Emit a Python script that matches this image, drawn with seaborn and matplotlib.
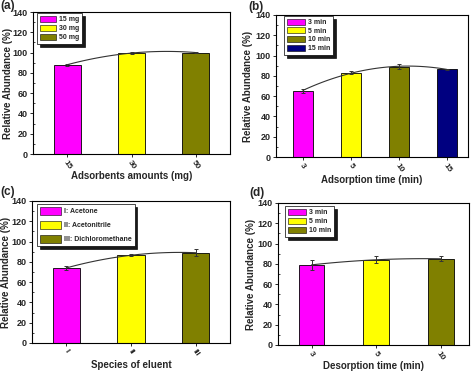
import numpy as np
import matplotlib
matplotlib.use("Agg")
import matplotlib.pyplot as plt
import seaborn as sns
import pandas as pd
from matplotlib.patches import Patch
from matplotlib.ticker import MultipleLocator

sns.set_style("white")
plt.rcParams['font.family'] = ['Liberation Sans', 'DejaVu Sans']
plt.rcParams['font.weight'] = 'bold'

# Data
a_cats = ["15", "30", "50"]
a_vals = [88.0, 99.5, 100.0]
a_err = [1.0, 0.8, 0.6]
a_leg = ["15 mg", "30 mg", "50 mg"]

b_cats = ["3", "5", "10", "15"]
b_vals = [65.5, 83.0, 89.0, 86.5]
b_err = [2.0, 1.5, 2.5, 0.5]
b_leg = ["3 min", "5 min", "10 min", "15 min"]

c_cats = ["I", "II", "III"]
c_vals = [74.0, 86.5, 89.0]
c_err = [2.0, 1.0, 3.5]
c_leg = ["I: Acetone", "II: Acetonitrile", "III: Dichloromethane"]

d_cats = ["3", "5", "10"]
d_vals = [79.0, 84.0, 85.0]
d_err = [5.0, 3.5, 2.5]
d_leg = ["3 min", "5 min", "10 min"]

colors = ["#FF00FF", "#FFFF00", "#808000", "#000080"]

fig = plt.figure(figsize=(4.74, 3.72), dpi=100)
W, H = 474, 372
def axrect(l, t, r, b):
    return [l / W, 1 - b / H, (r - l) / W, (b - t) / H]

# label, cats, vals, err, legend, xlabel, (l,t,r,b), xlim, barwidth, ylabel right-edge x px,
# xlabel top y px, panel-label (x,y) px, legend (left px, top px, handlelength, handleheight, labelspacing)
panels = [
    ("(a)", a_cats, a_vals, a_err, a_leg, "Adsorbents amounts (mg)", (33, 12, 230, 154), (-0.53, 2.53), 0.42,
     13, 171, (0, 0), (37, 13, 2.4, 0.9, 0.25)),
    ("(b)", b_cats, b_vals, b_err, b_leg, "Adsorption time (min)", (276, 15, 468, 157), (-0.56, 3.44), 0.42,
     253, 175, (248, 1), (284, 16, 2.6, 0.9, 0.2)),
    ("(c)", c_cats, c_vals, c_err, c_leg, "Species of eluent", (32, 201, 230, 343), (-0.53, 2.53), 0.42,
     11, 360, (0, 186), (37, 204, 3.1, 1.45, 0.8)),
    ("(d)", d_cats, d_vals, d_err, d_leg, "Desorption time (min)", (278, 203, 469, 345), (-0.52, 2.44), 0.40,
     256, 361, (249, 187), (285, 206, 2.6, 0.9, 0.25)),
]

for lab, cats, vals, err, leg, xlabel, box, xlim, bw, ylx, xly, plab, lgp in panels:
    l, t, r, b = box
    ax = fig.add_axes(axrect(*box))
    df = pd.DataFrame({"cat": cats, "val": vals})
    pal = colors[:len(cats)]
    sns.barplot(data=df, x="cat", y="val", hue="cat", palette=pal, legend=False, saturation=1,
                width=bw, edgecolor="black", linewidth=0.6, ax=ax, errorbar=None)
    x = np.arange(len(cats))
    ax.errorbar(x, vals, yerr=err, fmt="none", ecolor="#333333", elinewidth=0.7,
                capsize=1.5, capthick=0.7, zorder=5)
    # smooth trend curve through bar tops
    coef = np.polyfit(x, vals, 2)
    xs = np.linspace(x[0], x[-1], 100)
    ax.plot(xs, np.polyval(coef, xs), color="#333333", lw=0.8, zorder=6)
    ax.set_xlim(*xlim)
    ax.set_ylim(0, 140)
    ax.yaxis.set_major_locator(MultipleLocator(20))
    ax.yaxis.set_minor_locator(MultipleLocator(10))
    ax.set_xlabel(xlabel, fontsize=7, fontweight="bold")
    ax.set_ylabel("Relative Abundance (%)", fontsize=7, fontweight="bold")
    ax.yaxis.set_label_coords((ylx - l) / (r - l), 0.5)
    ax.xaxis.set_label_coords(0.5, -(xly - b) / (b - t))
    ax.tick_params(axis="both", which="major", direction="out", length=2.5, width=0.7,
                   labelsize=6.5, pad=1.5, left=True, bottom=True)
    ax.tick_params(axis="x", which="major", labelsize=6, pad=1)
    ax.tick_params(axis="y", which="minor", direction="in", length=1.5, width=0.6, left=True)
    for tl in ax.get_xticklabels():
        tl.set_rotation(-55)
        tl.set_ha("center")
        tl.set_va("top")
        tl.set_fontweight("bold")
    for tl in ax.get_yticklabels():
        tl.set_fontweight("bold")
    for s in ax.spines.values():
        s.set_visible(True)
        s.set_color("black")
        s.set_linewidth(0.8)
    handles = [Patch(facecolor=pal[i], edgecolor="black", linewidth=0.4, label=leg[i]) for i in range(len(cats))]
    lx, ly, hl, hh, ls = lgp
    lg = ax.legend(handles=handles, loc="upper left",
                   bbox_to_anchor=((lx - l) / (r - l), 1 - (ly - t) / (b - t)), borderaxespad=0,
                   frameon=True, fancybox=False, shadow={"color": "black", "alpha": 0.9},
                   handlelength=hl, handleheight=hh, handletextpad=0.4,
                   labelspacing=ls, borderpad=0.4, prop={"weight": "bold", "size": 5})
    lg.get_frame().set_edgecolor("black")
    lg.get_frame().set_linewidth(0.5)
    fig.text(plab[0] / W, 1 - plab[1] / H, lab, fontsize=8.5, fontweight="bold",
             ha="left", va="top")

fig.savefig("out.png", dpi=100)
